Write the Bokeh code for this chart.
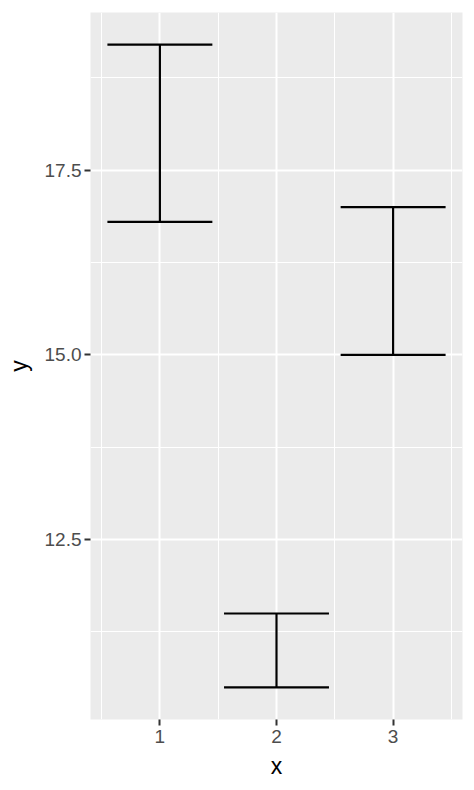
from bokeh.plotting import figure
from bokeh.models import Range1d, FixedTicker, ColumnDataSource
from bokeh.embed import file_html
from bokeh.resources import INLINE

# data
x = [1, 2, 3]
ymin = [16.8, 10.5, 15.0]
ymax = [19.2, 11.5, 17.0]
cap_half = 0.45

x_ticks = [1, 2, 3]
x_minor = [0.5, 1.5, 2.5, 3.5]
y_ticks = [12.5, 15.0, 17.5]
y_minor = [11.25, 13.75, 16.25, 18.75]

xlo, xhi = min(x) - cap_half, max(x) + cap_half
ylo, yhi = min(ymin), max(ymax)
xr = Range1d(xlo - 0.05 * (xhi - xlo), xhi + 0.05 * (xhi - xlo))
yr = Range1d(ylo - 0.05 * (yhi - ylo), yhi + 0.05 * (yhi - ylo))

src = ColumnDataSource(dict(
    x=x, ymin=ymin, ymax=ymax,
    xl=[v - cap_half for v in x], xr=[v + cap_half for v in x],
))

p = figure(width=466, height=782, output_backend="svg", toolbar_location=None,
           x_range=xr, y_range=yr,
           min_border_left=90, min_border_top=12, min_border_right=4, min_border_bottom=63)

p.background_fill_color = "#EBEBEB"
p.border_fill_color = "white"
p.outline_line_color = None

p.segment(x0="x", y0="ymin", x1="x", y1="ymax", source=src, line_color="black", line_width=2.2)
p.segment(x0="xl", y0="ymin", x1="xr", y1="ymin", source=src, line_color="black", line_width=2.2)
p.segment(x0="xl", y0="ymax", x1="xr", y1="ymax", source=src, line_color="black", line_width=2.2)

p.xaxis.ticker = FixedTicker(ticks=x_ticks, minor_ticks=x_minor)
p.yaxis.ticker = FixedTicker(ticks=y_ticks, minor_ticks=y_minor)
p.yaxis.major_label_overrides = {v: f"{v:.1f}" for v in y_ticks}
p.xaxis.major_label_overrides = {v: str(v) for v in x_ticks}

for g in (p.xgrid, p.ygrid):
    g.grid_line_color = "white"
    g.grid_line_width = 2
    g.minor_grid_line_color = "white"
    g.minor_grid_line_width = 1

for ax in (p.xaxis, p.yaxis):
    ax.axis_line_color = None
    ax.minor_tick_line_color = None
    ax.major_tick_line_color = "#333333"
    ax.major_tick_line_width = 2
    ax.major_tick_in = 0
    ax.major_tick_out = 6
    ax.major_label_text_font = "Liberation Sans"
    ax.major_label_text_font_size = "19px"
    ax.major_label_text_color = "#4D4D4D"
    ax.axis_label_text_font = "Liberation Sans"
    ax.axis_label_text_font_size = "23px"
    ax.axis_label_text_font_style = "normal"
    ax.axis_label_text_color = "black"

p.xaxis.axis_label = "x"
p.yaxis.axis_label = "y"
p.xaxis.major_label_standoff = 4
p.yaxis.major_label_standoff = 3
p.xaxis.axis_label_standoff = 7
p.yaxis.axis_label_standoff = 10

open("out.html", "w").write(file_html(p, INLINE))
